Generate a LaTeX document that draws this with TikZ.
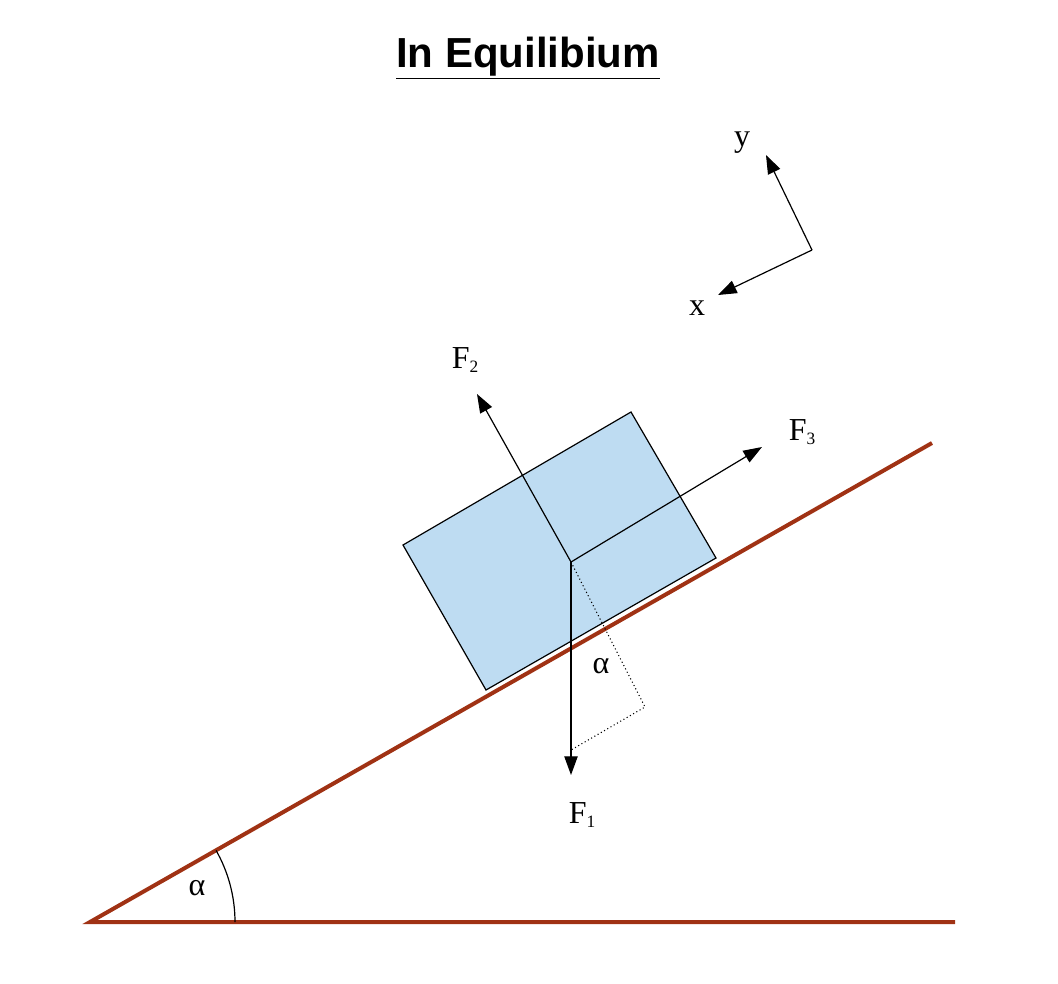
\documentclass[tikz,border=0pt]{standalone}
\usepackage{fontspec}
\setmainfont{Liberation Serif}
\newfontfamily\titlefont{Liberation Sans}
\usetikzlibrary{arrows.meta}
\definecolor{slope}{RGB}{160,50,20}
\definecolor{blockfill}{RGB}{190,220,242}
\newcommand{\sbs}[1]{\raisebox{-0.3ex}{\fontsize{13}{13}\selectfont #1}}
\begin{document}
\begin{tikzpicture}[x=0.75pt,y=-0.75pt,
  force/.style={-{Triangle[length=14pt,width=10pt]},line width=0.9pt},
  lbl/.style={font=\fontsize{24}{28}\selectfont},
  ground/.style={slope,line width=3pt}]
\useasboundingbox (0,0) rectangle (1058,983);
\node[font=\titlefont\bfseries\fontsize{31.5}{36}\selectfont] (title) at (528,58) {\underline{In Equilibium}};
\coordinate (A) at (90,922);
\coordinate (T) at (932,443);
\coordinate (G) at (955,922);
\draw[ground] (T) -- (A) -- (G);
\draw[line width=0.9pt] (235,922) arc[start angle=0,end angle=-29.6,radius=145];
\node[lbl] (alphaA) at (197,888) {α};
\draw[fill=blockfill,line width=0.9pt] (403,545) -- (631,412) -- (716,558) -- (486,690) -- cycle;
\coordinate (C) at (571,562);
\coordinate (P) at (645,707);
\coordinate (Q) at (571,750);
\draw[dotted,line width=0.8pt] (C) -- (P) -- (Q);
\draw[force] (C) -- (477,394) coordinate (F2e);
\draw[force] (C) -- (762,447) coordinate (F3e);
\draw[force] (C) -- (571,775) coordinate (F1e);
\node[lbl] (alphaB) at (601,666) {α};
\node[lbl] (F2) at (465,360) {F\sbs{2}};
\node[lbl] (F3) at (802,432) {F\sbs{3}};
\node[lbl] (F1) at (582,815) {F\sbs{1}};
\coordinate (O) at (812,250);
\draw[force] (O) -- (766,155);
\draw[force] (O) -- (718,295);
\node[lbl] (ylab) at (742,143) {y};
\node[lbl] (xlab) at (697,308) {x};
\end{tikzpicture}
\end{document}
